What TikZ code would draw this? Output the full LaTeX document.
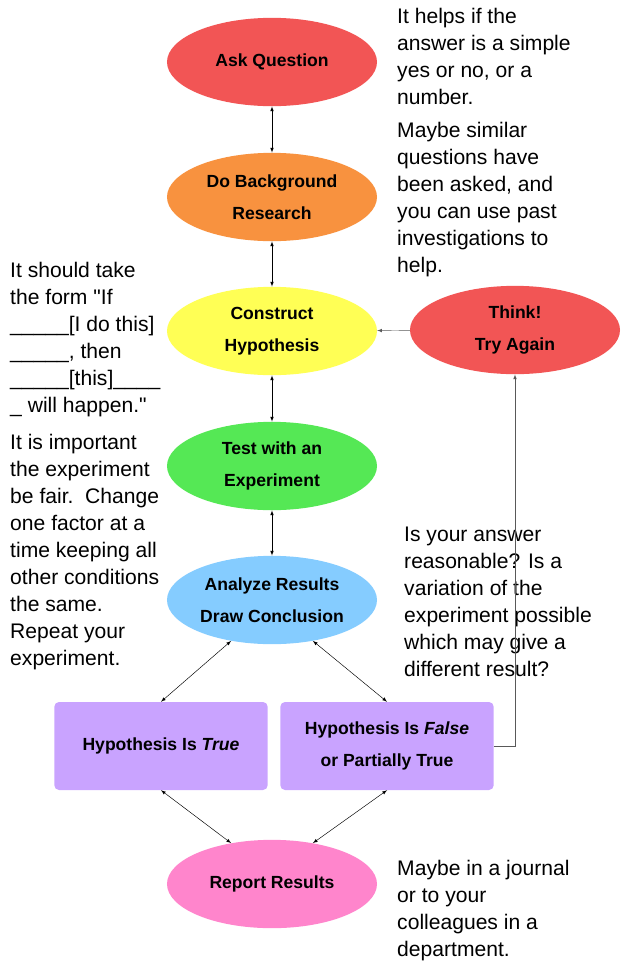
\documentclass[tikz,border=0pt]{standalone}
\usepackage{fontspec}
\setmainfont{Liberation Sans}
\usetikzlibrary{arrows,shapes.geometric}
\definecolor{stepred}{HTML}{F25555}
\definecolor{steporange}{HTML}{F8923F}
\definecolor{stepyellow}{HTML}{FFFF55}
\definecolor{stepgreen}{HTML}{55E855}
\definecolor{stepblue}{HTML}{85CCFF}
\definecolor{steppurple}{HTML}{C9A3FF}
\definecolor{steppink}{HTML}{FF85CC}
\begin{document}
\begin{tikzpicture}[x=0.03cm,y=-0.03cm]
\tikzset{
    stepnode/.style={ellipse, minimum width=6.3cm, minimum height=2.65cm, inner sep=0pt, align=center, font=\fontsize{15}{27}\selectfont\bfseries},
    resultbox/.style={rectangle, rounded corners=4pt, minimum width=6.4cm, minimum height=2.64cm, fill=steppurple, align=center, font=\fontsize{15}{27}\selectfont\bfseries},
    myarrow/.style={<->, >=latex, thin},
    mynote/.style={anchor=north west, align=left, inner sep=0pt, font=\fontsize{18}{23}\selectfont}
}
\useasboundingbox (0,0) rectangle (636,972);
\node[stepnode, fill=stepred] (ask) at (272,62) {Ask Question};
\node[stepnode, fill=steporange] (research) at (272,197) {Do Background\\Research};
\node[stepnode, fill=stepyellow] (hypothesis) at (272,331) {Construct\\Hypothesis};
\node[stepnode, fill=stepred] (think) at (515,330) {Think!\\Try Again};
\node[stepnode, fill=stepgreen] (test) at (272,466) {Test with an\\Experiment};
\node[stepnode, fill=stepblue] (analyze) at (272,600) {Analyze Results\\Draw Conclusion};
\node[resultbox] (true) at (161,746) {Hypothesis Is \textit{True}};
\node[resultbox] (false) at (387,746) {Hypothesis Is \textit{False}\\or Partially True};
\node[stepnode, fill=steppink] (report) at (272,884) {Report Results};
% notes beside the steps
\node[mynote] (note1) at (397,8) {It helps if the\\answer is a simple\\yes or no, or a\\number.};
\node[mynote] (note2) at (397,122) {Maybe similar\\questions have\\been asked, and\\you can use past\\investigations to\\help.};
\node[mynote] (note3) at (10,262) {It should take\\the form \textquotedbl If\\\_\_\_\_\_[I do this]\\\_\_\_\_\_, then\\\_\_\_\_\_[this]\_\_\_\_\\\_ will happen.\textquotedbl};
\node[mynote] (note4) at (10,434) {It is important\\the experiment\\be fair.\ \ Change\\one factor at a\\time keeping all\\other conditions\\the same.\\Repeat your\\experiment.};
\node[mynote] (note5) at (404,527) {Is your answer\\reasonable? Is a\\variation of the\\experiment possible\\which may give a\\different result?};
\node[mynote] (note6) at (397,860) {Maybe in a journal\\or to your\\colleagues in a\\department.};
% connectors
\draw[myarrow] (ask) -- (research);
\draw[myarrow] (research) -- (hypothesis);
\draw[myarrow] (hypothesis) -- (test);
\draw[myarrow] (test) -- (analyze);
\draw[myarrow] (analyze.225) -- (true.north);
\draw[myarrow] (analyze.-45) -- (false.north);
\draw[myarrow] (true.south) -- (report.135);
\draw[myarrow] (false.south) -- (report.45);
\draw[->, >=latex, thin, gray!70!black] (false.east) -| (think.south);
\draw[->, >=latex, thin, gray!70!black] (think) -- (hypothesis);
\end{tikzpicture}
\end{document}
